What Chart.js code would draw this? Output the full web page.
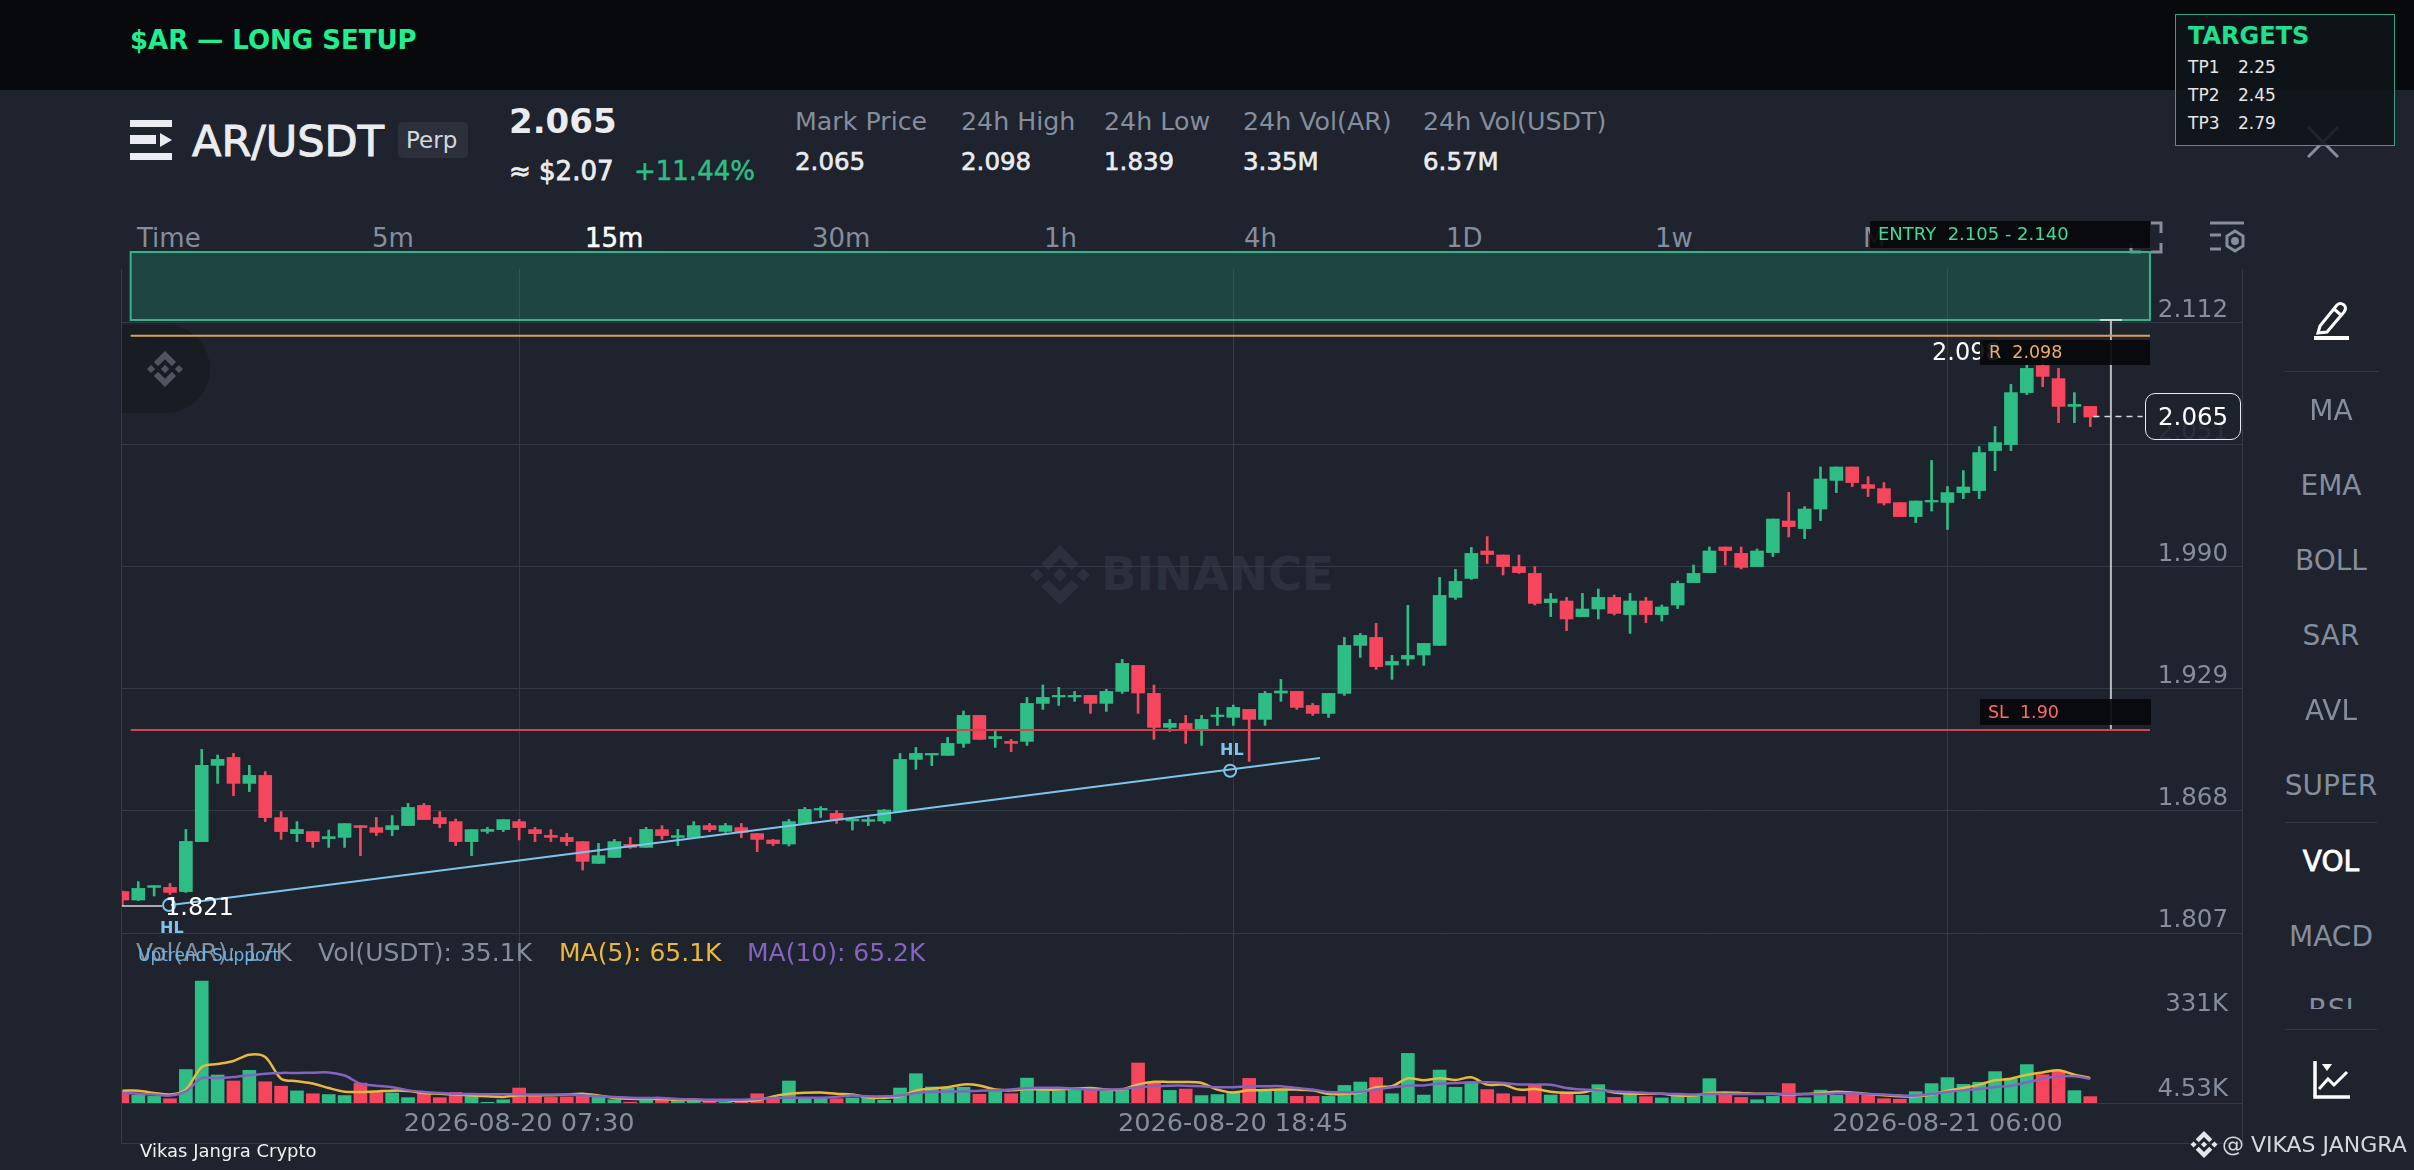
<!DOCTYPE html>
<html>
<head>
<meta charset="utf-8">
<title>AR/USDT</title>
<script src="https://cdn.jsdelivr.net/npm/chart.js@4"></script>
<style>
html, body { margin: 0; padding: 0; width: 2414px; height: 1170px; overflow: hidden; background: #1e232d; font-family: "DejaVu Sans", sans-serif; }
.t { position: absolute; white-space: pre; transform: translateY(-50%); line-height: 1.2; }
.c { transform: translate(-50%, -50%); }
.box { position: absolute; }
.white { color: #eaecef; }
.semi { -webkit-text-stroke: 0.5px currentColor; }
.side { font-size: 28px; color: #848e9c; left: 2331px; }
.tab { font-size: 26px; color: #848e9c; top: 239px; }
.head { font-size: 25.3px; color: #848e9c; top: 122px; }
.val { font-size: 24.5px; color: #eaecef; top: 162px; -webkit-text-stroke: 0.6px #eaecef; }
.sep { position: absolute; height: 1px; background: #343a45; }
.lbl { position: absolute; background: rgba(7,9,12,0.92); }
canvas { position: absolute; left: 121px; }
svg { position: absolute; }
</style>
</head>
<body>
<!-- top band -->
<div class="box" style="left:0;top:0;width:2414px;height:90px;background:#07090c"></div>
<div class="t" style="left:130px;top:41px;font-size:26px;font-weight:bold;color:#1ff08f">$AR — LONG SETUP</div>

<!-- ticker header -->
<svg style="left:130px;top:120px" width="43" height="40" viewBox="0 0 43 40" fill="#eaecef">
  <rect x="0" y="0" width="42" height="7"/><rect x="0" y="15" width="26" height="9"/><path d="M30 13 L42 20 L30 27 Z"/><rect x="0" y="33" width="42" height="7"/>
</svg>
<div class="t white" style="left:192px;top:142px;font-size:43px;-webkit-text-stroke:1px #eaecef">AR/USDT</div>
<div class="box" style="left:398px;top:122px;width:70px;height:36px;background:#2b303b;border-radius:5px"></div>
<div class="t" style="left:406px;top:141px;font-size:23px;color:#d5d8dc">Perp</div>
<div class="t white" style="left:509px;top:121px;font-size:34px;font-weight:bold">2.065</div>
<div class="t white" style="left:509px;top:172px;font-size:26px;-webkit-text-stroke:0.8px #eaecef">≈ $2.07</div>
<div class="t semi" style="left:634px;top:172px;font-size:26px;color:#2ebd85">+11.44%</div>
<div class="t head" style="left:795px">Mark Price</div><div class="t val" style="left:795px">2.065</div>
<div class="t head" style="left:961px">24h High</div><div class="t val" style="left:961px">2.098</div>
<div class="t head" style="left:1104px">24h Low</div><div class="t val" style="left:1104px">1.839</div>
<div class="t head" style="left:1243px">24h Vol(AR)</div><div class="t val" style="left:1243px">3.35M</div>
<div class="t head" style="left:1423px">24h Vol(USDT)</div><div class="t val" style="left:1423px">6.57M</div>

<!-- interval tabs -->
<div class="t tab" style="left:137px">Time</div>
<div class="t tab" style="left:372px">5m</div>
<div class="t tab semi" style="left:585px;color:#fff">15m</div>
<div class="t tab" style="left:812px">30m</div>
<div class="t tab" style="left:1044px">1h</div>
<div class="t tab" style="left:1244px">4h</div>
<div class="t tab" style="left:1446px">1D</div>
<div class="t tab" style="left:1655px">1w</div>
<div class="t tab" style="left:1863px">M</div>
<svg style="left:2129px;top:221px" width="34" height="33" viewBox="0 0 34 33" fill="none" stroke="#848e9c" stroke-width="3">
  <path d="M22 2 H32 V12 M32 22 V31 H22 M12 31 H2 V22"/>
</svg>
<svg style="left:2210px;top:221px" width="35" height="32" viewBox="0 0 35 32" fill="none" stroke="#848e9c" stroke-width="3">
  <path d="M0 2 H34 M0 14 H11 M0 28 H11"/><path d="M25 10 L33 15 V25 L25 30 L17 25 V15 Z"/><circle cx="25" cy="20" r="2.5" fill="#848e9c"/>
</svg>

<!-- chart background: badge and watermark -->
<div class="box" style="left:122px;top:325px;width:88px;height:88px;background:#181c23;border-radius:0 44px 44px 0"></div>
<svg style="left:147px;top:351px" width="36" height="36" viewBox="0 0 32 32" fill="#4f5561"><path id="bnb" d="M9.786 13.445L16 7.23l6.217 6.217 3.616-3.616L16 0 6.17 9.829zM0 16l3.616-3.616L7.23 16l-3.615 3.615zM9.786 18.555L16 24.77l6.217-6.217 3.618 3.613-.002.002L16 32l-9.83-9.83-.005-.005zM24.77 16l3.615-3.616L32 16l-3.615 3.616zM19.668 15.998h.002V16L16 19.667l-3.664-3.664-.006-.006.006-.005.641-.641.311-.311L16 12.33z"/></svg>
<svg style="left:1030px;top:545px" width="60" height="60" viewBox="0 0 32 32" fill="#2b313c"><use href="#bnb"/></svg>
<div class="t" style="left:1101px;top:575px;font-size:46.6px;font-weight:bold;color:#2b313c">BINANCE</div>

<canvas id="priceChart" width="2121" height="695" style="top:240px"></canvas>
<canvas id="volChart" width="2121" height="210" style="top:933px"></canvas>

<!-- frame lines -->
<div class="box" style="left:121px;top:269px;width:1px;height:874px;background:#343a45"></div>
<div class="box" style="left:2242px;top:269px;width:1px;height:874px;background:#343a45"></div>
<div class="box" style="left:121px;top:1143px;width:2122px;height:1px;background:#343a45"></div>

<!-- chart labels -->
<div class="t" style="left:165px;top:907px;font-size:24px;color:#fff">1.821</div>
<div class="t" style="left:160px;top:928px;font-size:16px;font-weight:bold;color:#7ec4ec">HL</div>
<div class="t" style="left:1220px;top:750px;font-size:16px;font-weight:bold;color:#7ec4ec">HL</div>
<div class="t" style="left:1932px;top:352px;font-size:24px;color:#fff">2.098</div>
<div class="lbl" style="left:1870px;top:221px;width:280px;height:27px"></div>
<div class="t" style="left:1878px;top:234px;font-size:18px;color:#3ddc97">ENTRY  2.105 - 2.140</div>
<div class="lbl" style="left:1980px;top:340px;width:170px;height:25px"></div>
<div class="t" style="left:1989px;top:352px;font-size:17.5px;color:#f0b060">R  2.098</div>
<div class="lbl" style="left:1980px;top:699px;width:171px;height:26px"></div>
<div class="t" style="left:1988px;top:712px;font-size:17.5px;color:#ff6b6b">SL  1.90</div>
<div class="box" style="left:2145px;top:393px;width:94px;height:45px;border:1.5px solid #eaecef;border-radius:10px;background:rgba(30,35,45,0.88)"></div>
<div class="t" style="left:2158px;top:417px;font-size:24.5px;color:#fff">2.065</div>

<!-- volume legend -->
<div class="t" style="left:136px;top:953px;font-size:25px;color:#848e9c">Vol(AR): 17K</div>
<div class="t" style="left:138px;top:955px;font-size:17px;color:#6cb4e4">Uptrend Support</div>
<div class="t" style="left:318px;top:953px;font-size:25px;color:#848e9c">Vol(USDT): 35.1K</div>
<div class="t" style="left:559px;top:953px;font-size:25px;color:#e8b93c">MA(5): 65.1K</div>
<div class="t" style="left:747px;top:953px;font-size:25px;color:#8464c0">MA(10): 65.2K</div>

<!-- right side bar -->
<svg style="left:2313px;top:300px" width="38" height="40" viewBox="0 0 38 40" fill="none" stroke="#fff" stroke-width="3">
  <path d="M7 26 L24 5 Q27 2 31 5 Q34 8 31 12 L14 32 L5 33 Z M21 9 L28 15"/><path d="M1 38 H36" stroke-width="4"/>
</svg>
<div class="sep" style="left:2284px;top:371px;width:95px"></div>
<div class="t c side" style="top:411px">MA</div>
<div class="t c side" style="top:486px">EMA</div>
<div class="t c side" style="top:561px">BOLL</div>
<div class="t c side" style="top:636px">SAR</div>
<div class="t c side" style="top:711px">AVL</div>
<div class="t c side" style="top:786px">SUPER</div>
<div class="sep" style="left:2285px;top:822px;width:92px"></div>
<div class="t c side" style="top:862px;color:#fff;-webkit-text-stroke:0.8px #fff">VOL</div>
<div class="t c side" style="top:937px">MACD</div>
<div class="t c side" style="top:1010px;clip-path:inset(0 0 calc(50% + 1px) 0)">RSI</div>
<div class="sep" style="left:2285px;top:1029px;width:92px"></div>
<svg style="left:2313px;top:1061px" width="38" height="38" viewBox="0 0 38 38" fill="none" stroke="#fff" stroke-width="3">
  <path d="M2 0 V36 H37" stroke-width="3.5"/><path d="M6 28 L15 18 L21 24 L34 11"/><path d="M9 3 H19 L14 10 Z" fill="#fff" stroke="none"/>
</svg>

<!-- close icon then targets box over it -->
<svg style="left:2307px;top:126px" width="32" height="32" viewBox="0 0 32 32" fill="none" stroke="#848e9c" stroke-width="3"><path d="M1 1 L31 31 M31 1 L1 31"/></svg>
<div class="box" style="left:2175px;top:14px;width:218px;height:130px;background:rgba(16,20,26,0.88);border:1.5px solid #2fa383"></div>
<div class="t" style="left:2188px;top:36px;font-size:24px;font-weight:bold;color:#1fe08f">TARGETS</div>
<div class="t" style="left:2188px;top:67px;font-size:17px;color:#e6e6e6">TP1</div><div class="t" style="left:2238px;top:67px;font-size:17px;color:#e6e6e6">2.25</div>
<div class="t" style="left:2188px;top:95px;font-size:17px;color:#e6e6e6">TP2</div><div class="t" style="left:2238px;top:95px;font-size:17px;color:#e6e6e6">2.45</div>
<div class="t" style="left:2188px;top:123px;font-size:17px;color:#e6e6e6">TP3</div><div class="t" style="left:2238px;top:123px;font-size:17px;color:#e6e6e6">2.79</div>

<!-- footer -->
<div class="t" style="left:140px;top:1151px;font-size:18px;color:#f0f0f0">Vikas Jangra Crypto</div>
<svg style="left:2190px;top:1131px" width="28" height="27" viewBox="0 0 32 32" fill="#e4e6ea"><use href="#bnb"/></svg>
<div class="t" style="left:2222px;top:1145px;font-size:22px;color:#d5d8dc">@ VIKAS JANGRA</div>

<script>
const opens = [
    1.8277,1.8235,1.8298,1.8298,1.8277,1.8527,1.8908,1.8948,1.8818,1.8858,
    1.8647,1.8567,1.8577,1.8542,1.8548,1.8607,1.8597,1.8587,1.8607,1.8708,
    1.8647,1.8627,1.8527,1.8578,1.8587,1.8627,1.8587,1.8558,1.8548,1.8527,
    1.8418,1.8448,1.8513,1.8498,1.8587,1.8548,1.8548,1.8607,1.8578,1.8597,
    1.8567,1.8535,1.8515,1.8618,1.8685,1.8668,1.8630,1.8628,1.8630,1.8677,
    1.8938,1.8960,1.8958,1.9018,1.9158,1.9042,1.9028,1.9028,1.9218,1.9250,
    1.9250,1.9258,1.9218,1.9278,1.9408,1.9268,1.9098,1.9118,1.9088,1.9152,
    1.9148,1.9188,1.9138,1.9270,1.9278,1.9208,1.9168,1.9268,1.9508,1.9548,
    1.9410,1.9440,1.9460,1.9508,1.9748,1.9843,1.9980,1.9960,1.9902,1.9868,
    1.9722,1.9730,1.9652,1.9690,1.9748,1.9662,1.9730,1.9662,1.9710,1.9822,
    1.9872,2.0000,1.9968,1.9902,1.9972,2.0130,2.0092,2.0190,2.0333,2.0400,
    2.0312,2.0292,2.0222,2.0152,2.0225,2.0223,2.0272,2.0282,2.0482,2.0512,
    2.0772,2.0907,2.0842,2.0703,2.0703
];
const closes = [
    1.8235,1.8293,1.8307,1.8273,1.8528,1.8908,1.8938,1.8818,1.8858,1.8647,
    1.8577,1.8588,1.8527,1.8552,1.8617,1.8597,1.8573,1.8607,1.8698,1.8637,
    1.8617,1.8527,1.8587,1.8588,1.8637,1.8597,1.8567,1.8548,1.8527,1.8428,
    1.8457,1.8527,1.8498,1.8588,1.8557,1.8557,1.8607,1.8587,1.8607,1.8573,
    1.8538,1.8517,1.8627,1.8688,1.8693,1.8635,1.8640,1.8637,1.8685,1.8938,
    1.8968,1.8968,1.9018,1.9158,1.9038,1.9052,1.9018,1.9218,1.9248,1.9258,
    1.9258,1.9218,1.9278,1.9418,1.9270,1.9098,1.9118,1.9085,1.9138,1.9160,
    1.9198,1.9138,1.9268,1.9280,1.9198,1.9168,1.9268,1.9508,1.9558,1.9402,
    1.9428,1.9458,1.9518,1.9758,1.9828,1.9968,1.9962,1.9902,1.9872,1.9718,
    1.9740,1.9640,1.9690,1.9748,1.9668,1.9730,1.9662,1.9700,1.9818,1.9868,
    1.9980,1.9982,1.9898,1.9980,2.0140,2.0102,2.0190,2.0340,2.0400,2.0322,
    2.0293,2.0220,2.0152,2.0230,2.0233,2.0272,2.0300,2.0472,2.0522,2.0772,
    2.0893,2.0853,2.0703,2.0713,2.0650
];
const highs = [
    1.8280,1.8327,1.8307,1.8318,1.8588,1.8988,1.8960,1.8968,1.8908,1.8877,
    1.8677,1.8627,1.8577,1.8585,1.8617,1.8607,1.8648,1.8657,1.8718,1.8718,
    1.8677,1.8640,1.8587,1.8598,1.8637,1.8638,1.8598,1.8587,1.8568,1.8527,
    1.8518,1.8538,1.8548,1.8598,1.8607,1.8588,1.8627,1.8618,1.8618,1.8618,
    1.8567,1.8538,1.8638,1.8698,1.8702,1.8682,1.8643,1.8648,1.8688,1.8968,
    1.8998,1.8968,1.9048,1.9180,1.9158,1.9082,1.9038,1.9248,1.9310,1.9298,
    1.9278,1.9258,1.9288,1.9438,1.9408,1.9310,1.9138,1.9158,1.9158,1.9198,
    1.9210,1.9188,1.9278,1.9338,1.9278,1.9218,1.9268,1.9548,1.9568,1.9618,
    1.9458,1.9708,1.9518,1.9848,1.9888,1.9998,2.0052,1.9960,1.9960,1.9902,
    1.9768,1.9748,1.9768,1.9790,1.9760,1.9768,1.9748,1.9710,1.9830,1.9910,
    2.0000,2.0000,2.0000,1.9990,2.0140,2.0273,2.0202,2.0400,2.0400,2.0400,
    2.0352,2.0322,2.0222,2.0230,2.0433,2.0302,2.0382,2.0502,2.0602,2.0813,
    2.0910,2.0980,2.0893,2.0772,2.0703
];
const lows = [
    1.8205,1.8232,1.8255,1.8263,1.8273,1.8527,1.8818,1.8757,1.8777,1.8627,
    1.8538,1.8527,1.8498,1.8498,1.8498,1.8457,1.8557,1.8557,1.8607,1.8637,
    1.8597,1.8507,1.8457,1.8568,1.8577,1.8535,1.8527,1.8527,1.8507,1.8385,
    1.8418,1.8448,1.8493,1.8498,1.8538,1.8507,1.8548,1.8577,1.8573,1.8547,
    1.8477,1.8507,1.8505,1.8618,1.8648,1.8618,1.8585,1.8607,1.8618,1.8673,
    1.8888,1.8907,1.8958,1.8998,1.9038,1.8998,1.8977,1.9008,1.9188,1.9208,
    1.9228,1.9168,1.9178,1.9268,1.9168,1.9038,1.9078,1.9018,1.9008,1.9108,
    1.9108,1.8928,1.9108,1.9228,1.9188,1.9158,1.9148,1.9258,1.9448,1.9388,
    1.9338,1.9408,1.9408,1.9508,1.9738,1.9838,1.9918,1.9860,1.9868,1.9710,
    1.9652,1.9582,1.9652,1.9640,1.9660,1.9568,1.9622,1.9630,1.9692,1.9822,
    1.9872,1.9910,1.9890,1.9902,1.9952,2.0050,2.0042,2.0132,2.0272,2.0302,
    2.0252,2.0210,2.0152,2.0122,2.0180,2.0088,2.0242,2.0242,2.0382,2.0482,
    2.0762,2.0802,2.0622,2.0622,2.0602
];
// volumes in thousands
const volumes = [
    49,34,30,21,133,472,112,89,130,86,
    69,51,40,37,33,81,45,43,25,43,
    25,45,30,7,17,62,30,26,28,38,
    26,17,8,20,20,16,16,17,8,17,
    40,25,89,26,26,21,24,26,15,62,
    117,66,62,65,38,49,40,100,56,51,
    53,62,51,56,158,81,53,58,33,37,
    43,99,53,56,30,30,30,72,85,102,
    40,195,35,131,65,85,56,40,29,74,
    35,43,34,75,26,40,29,24,30,30,
    98,45,26,17,30,79,25,54,34,43,
    37,21,19,48,79,102,76,84,125,97,
    152,113,126,52,29
];
const ma5 = [
    52,52,43,37,56,143,154,166,190,181,
    98,88,79,62,48,47,49,52,51,43,
    40,37,33,30,28,34,34,34,37,40,
    33,24,21,20,20,17,16,15,15,12,
    15,30,40,44,45,40,37,26,24,30,
    52,60,65,76,72,56,53,58,56,56,
    60,62,56,56,76,86,85,85,81,56,
    45,53,54,56,56,53,39,40,45,65,
    69,99,92,100,93,103,75,75,56,58,
    48,44,45,56,45,40,40,40,33,33,
    43,45,43,40,40,37,39,43,48,45,
    39,34,30,30,37,52,62,75,92,98,
    113,122,130,113,100
];
const ma10 = [
    43,40,37,33,49,100,100,104,111,117,
    120,120,121,122,110,79,71,65,53,47,
    43,40,39,38,38,38,37,37,37,34,
    30,28,25,24,24,20,19,17,17,17,
    20,24,25,25,25,28,33,30,30,33,
    43,47,49,49,52,53,56,62,63,63,
    60,56,56,58,65,69,71,71,69,65,
    65,69,69,69,62,56,47,46,47,56,
    65,71,72,79,81,84,84,81,76,75,
    75,62,56,53,49,47,43,40,39,37,
    39,39,39,39,39,39,39,39,42,42,
    39,37,34,33,39,47,53,58,66,71,
    84,97,107,107,97
];

const priceTicks = [1.807, 1.868, 1.929, 1.990, 2.051, 2.112];
const volTicks = [4.53, 331];
const volTickLabels = ["4.53K", "331K"];
const timeTicks = [25, 70, 115];
const timeLabels = ["2026-08-20 07:30", "2026-08-20 18:45", "2026-08-21 06:00"];

// drawn levels, in price
const zoneHigh = 2.1475, zoneLow = 2.1135;
const resistanceLine = 2.1056;
const stopLine = 1.9085;
const lastPrice = 2.0653;
const lowMark = 1.8205;
const trendX = [3.06, 75.46];
const trendY = [1.821, 1.8945];
const pivotX = [2.94, 69.8];
const pivotY = [1.821, 1.8881];
const levelFrom = 0.52, levelTo = 127.76;

const GREEN = "#2ebd85", RED = "#f6465d", GRID = "#343a45", GREY = "#848e9c", BLUE = "#7ec4ec";

Chart.defaults.font.family = '"DejaVu Sans", sans-serif';
Chart.defaults.animation = false;
Chart.defaults.responsive = false;
Chart.defaults.plugins.legend.display = false;
Chart.defaults.plugins.tooltip.enabled = false;

const candleColors = closes.map((c, i) => (c >= opens[i] ? GREEN : RED));
const xyLine = (xs, ys) => xs.map((x, i) => ({ x: x, y: ys[i] }));

function lineSet(data, color, width, extra) {
    return Object.assign({ type: "line", data: data, borderColor: color, borderWidth: width, pointRadius: 0, order: 0 }, extra);
}

function xAxis(showLabels) {
    return {
        type: "linear",
        min: -0.088,
        max: 133.56,
        offset: false,
        border: { display: false },
        grid: { color: GRID, lineWidth: 1, drawTicks: false, offset: false },
        afterBuildTicks: s => { s.ticks = timeTicks.map(v => ({ value: v })); },
        afterFit: s => { s.height = showLabels ? 40 : 0; s.paddingLeft = 0; s.paddingRight = 0; },
        ticks: {
            display: showLabels,
            autoSkip: false,
            maxRotation: 0,
            padding: 6,
            color: GREY,
            font: { size: 25.6 },
            callback: (v, i) => timeLabels[i]
        }
    };
}

function yFit(s) {
    s.width = 0;
    s.paddingTop = 0;
    s.paddingBottom = 0;
}

const entryZone = {
    id: "entryZone",
    beforeDatasetsDraw(chart) {
        const x = chart.scales.x, y = chart.scales.y, ctx = chart.ctx;
        const left = x.getPixelForValue(levelFrom), right = x.getPixelForValue(levelTo);
        const top = y.getPixelForValue(zoneHigh), bottom = y.getPixelForValue(zoneLow);
        ctx.save();
        ctx.fillStyle = "rgba(38,150,120,0.3)";
        ctx.strokeStyle = "#2fb58a";
        ctx.lineWidth = 2;
        ctx.fillRect(left, top, right - left, bottom - top);
        ctx.strokeRect(left, top, right - left, bottom - top);
        ctx.restore();
    }
};

new Chart(document.getElementById("priceChart"), {
    type: "bar",
    plugins: [entryZone],
    data: {
        datasets: [
            lineSet(xyLine(trendX, trendY), BLUE, 2),
            lineSet(xyLine(pivotX, pivotY), BLUE, 0, { showLine: false, pointRadius: 6, pointBorderWidth: 2, pointBorderColor: BLUE, pointBackgroundColor: "#1e232d" }),
            lineSet(xyLine([levelFrom, levelTo], [resistanceLine, resistanceLine]), "#d9a05b", 2),
            lineSet(xyLine([levelFrom, levelTo], [stopLine, stopLine]), "#d0434f", 2),
            lineSet(xyLine([124.6, 126, 125.3, 125.3, 124.6, 126], [zoneLow, zoneLow, zoneLow, stopLine, stopLine, stopLine]), "rgba(235,235,235,0.75)", 2),
            lineSet(xyLine([124.2, 127.3], [lastPrice, lastPrice]), "#d5d8dc", 1.5, { borderDash: [6, 5] }),
            lineSet(xyLine([-0.1, 2.5], [lowMark, lowMark]), "#d5d8dc", 1.5),
            {
                data: opens.map((o, i) => ({ x: i, y: [o, closes[i]] })),
                backgroundColor: candleColors,
                barThickness: 13,
                grouped: false,
                order: 1
            },
            {
                data: lows.map((l, i) => ({ x: i, y: [l, highs[i]] })),
                backgroundColor: candleColors,
                barThickness: 2,
                grouped: false,
                order: 2
            }
        ]
    },
    options: {
        layout: { autoPadding: false, padding: { top: 29, bottom: 2, left: 0, right: 0 } },
        scales: {
            x: xAxis(false),
            y: {
                position: "right",
                min: 1.807,
                max: 2.139,
                border: { display: false },
                grid: { color: GRID, lineWidth: 1, drawTicks: false },
                afterBuildTicks: s => { s.ticks = priceTicks.map(v => ({ value: v })); },
                afterFit: yFit,
                ticks: {
                    mirror: true,
                    autoSkip: false,
                    padding: -14,
                    labelOffset: -12,
                    color: GREY,
                    font: { size: 24.5 },
                    callback: v => v.toFixed(3)
                }
            }
        }
    }
});

new Chart(document.getElementById("volChart"), {
    type: "bar",
    data: {
        datasets: [
            lineSet(xyLine(volumes.map((v, i) => i), ma10), "#8464c0", 2.5, { tension: 0.3 }),
            lineSet(xyLine(volumes.map((v, i) => i), ma5), "#e8b93c", 2.5, { tension: 0.3, order: 1 }),
            {
                data: volumes.map((v, i) => ({ x: i, y: v })),
                backgroundColor: candleColors,
                barThickness: 13,
                grouped: false,
                order: 2
            }
        ]
    },
    options: {
        layout: { autoPadding: false, padding: 0 },
        scales: {
            x: xAxis(true),
            y: {
                position: "right",
                min: 4.53,
                max: 657,
                border: { display: false },
                grid: { color: c => (c.tick && c.tick.value === 331 ? "transparent" : GRID), lineWidth: 1, drawTicks: false },
                afterBuildTicks: s => { s.ticks = volTicks.map(v => ({ value: v })); },
                afterFit: yFit,
                ticks: {
                    mirror: true,
                    autoSkip: false,
                    padding: -14,
                    labelOffset: -13,
                    color: GREY,
                    font: { size: 24.5 },
                    callback: (v, i) => volTickLabels[i]
                }
            }
        }
    }
});
</script>
</body>
</html>
